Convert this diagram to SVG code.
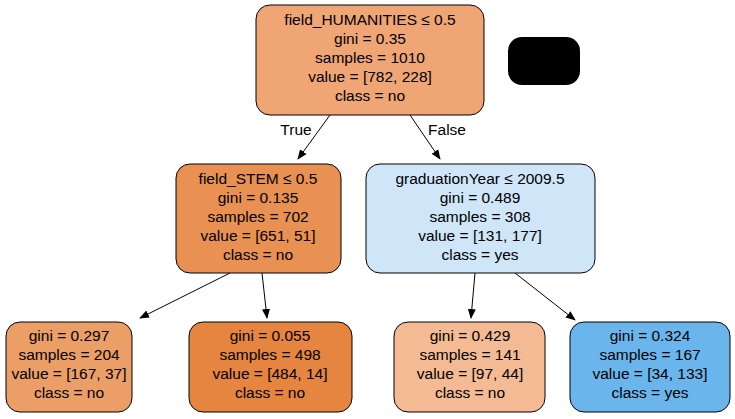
<svg xmlns="http://www.w3.org/2000/svg" width="735" height="419" viewBox="0 0 735 419">
<style>
.n{stroke:#000;stroke-width:1}
text{font-family:"Liberation Sans",Arial,sans-serif;font-size:15.5px;text-anchor:middle;fill:#000}
.e{stroke:#000;stroke-width:1;fill:none}
</style>
<defs><marker id="a" markerWidth="10" markerHeight="10" refX="9" refY="5" orient="auto" markerUnits="userSpaceOnUse"><path d="M0,1 L10,5 L0,9 Z" fill="#000"/></marker></defs>
<rect width="735" height="419" fill="#fff"/>
<g id="connectors">
<path class="e" d="M330,115 L298,159" marker-end="url(#a)"/>
<path class="e" d="M410,115 L440,159" marker-end="url(#a)"/>
<path class="e" d="M230,273 L140,318" marker-end="url(#a)"/>
<path class="e" d="M262,273 L267,318" marker-end="url(#a)"/>
<path class="e" d="M475,273 L471,318" marker-end="url(#a)"/>
<path class="e" d="M515,273 L575,320" marker-end="url(#a)"/>
<text x="296" y="135">True</text>
<text x="447" y="135">False</text>
</g>
<g id="root"><rect class="n" x="256" y="5" width="228" height="110" rx="14" fill="#efa674"/>
<text x="370" y="25">field_HUMANITIES ≤ 0.5</text><text x="370" y="44">gini = 0.35</text><text x="370" y="63">samples = 1010</text><text x="370" y="82">value = [782, 228]</text><text x="370" y="101">class = no</text></g>
<g id="blank"><rect x="508" y="37" width="72" height="48" rx="14" fill="#000"/></g>
<g id="n1"><rect class="n" x="176" y="164" width="165" height="109" rx="14" fill="#e89152"/>
<text x="258" y="184">field_STEM ≤ 0.5</text><text x="258" y="203">gini = 0.135</text><text x="258" y="222">samples = 702</text><text x="258" y="241">value = [651, 51]</text><text x="258" y="260">class = no</text></g>
<g id="n2"><rect class="n" x="366" y="164" width="229" height="109" rx="14" fill="#cee6f8"/>
<text x="480" y="184">graduationYear ≤ 2009.5</text><text x="480" y="203">gini = 0.489</text><text x="480" y="222">samples = 308</text><text x="480" y="241">value = [131, 177]</text><text x="480" y="260">class = yes</text></g>
<g id="n3"><rect class="n" x="6" y="322" width="126" height="90" rx="14" fill="#eb9e66"/>
<text x="69" y="341">gini = 0.297</text><text x="69" y="360">samples = 204</text><text x="69" y="379">value = [167, 37]</text><text x="69" y="398">class = no</text></g>
<g id="n4"><rect class="n" x="189" y="322" width="163" height="90" rx="14" fill="#e6853f"/>
<text x="270" y="341">gini = 0.055</text><text x="270" y="360">samples = 498</text><text x="270" y="379">value = [484, 14]</text><text x="270" y="398">class = no</text></g>
<g id="n5"><rect class="n" x="394" y="322" width="151" height="90" rx="14" fill="#f3ba93"/>
<text x="470" y="341">gini = 0.429</text><text x="470" y="360">samples = 141</text><text x="470" y="379">value = [97, 44]</text><text x="470" y="398">class = no</text></g>
<g id="n6"><rect class="n" x="570" y="322" width="160" height="90" rx="14" fill="#6ab6ec"/>
<text x="650" y="341">gini = 0.324</text><text x="650" y="360">samples = 167</text><text x="650" y="379">value = [34, 133]</text><text x="650" y="398">class = yes</text></g>
</svg>
